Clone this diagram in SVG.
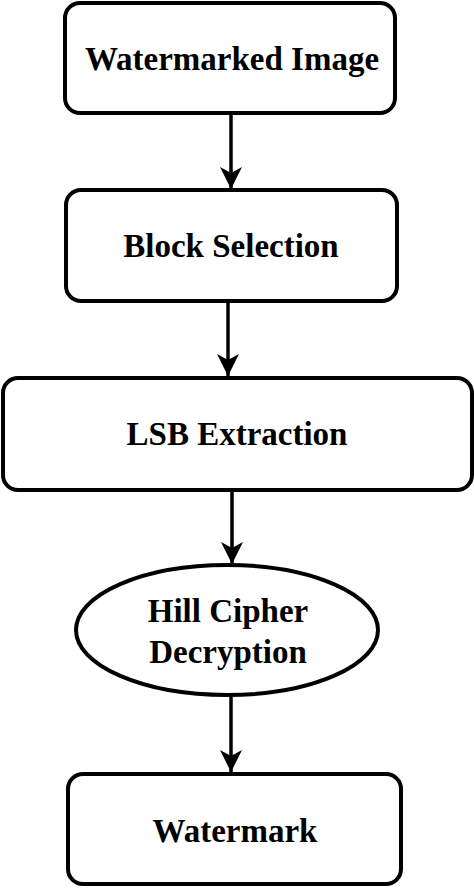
<svg xmlns="http://www.w3.org/2000/svg" width="474" height="888" viewBox="0 0 474 888">
<defs>
<style>
.box{fill:#fff;stroke:#000;stroke-width:4}
.lbl{font-family:"Liberation Serif","Times New Roman","DejaVu Serif",serif;font-weight:bold;font-size:33px;fill:#000;text-anchor:middle}
.conn{stroke:#000;stroke-width:3.5;fill:none}
</style>
<marker id="ah" markerUnits="userSpaceOnUse" markerWidth="24" markerHeight="24" viewBox="0 0 24 24" refX="22" refY="12" orient="auto">
<path d="M0,1 L22,12 L0,23 L6,12 Z" fill="#000"/>
</marker>
</defs>
<rect width="474" height="888" fill="#fff"/>
<g id="connectors">
<line class="conn" x1="231" y1="114" x2="231" y2="189" marker-end="url(#ah)"/>
<line class="conn" x1="228" y1="302" x2="228" y2="376" marker-end="url(#ah)"/>
<line class="conn" x1="232" y1="491" x2="232" y2="564" marker-end="url(#ah)"/>
<line class="conn" x1="231" y1="695" x2="231" y2="772" marker-end="url(#ah)"/>
</g>
<g id="node-watermarked-image">
<rect class="box" x="65" y="3" width="330" height="110" rx="15"/>
<text class="lbl" x="232" y="70" font-family="Liberation Serif, serif">Watermarked Image</text>
</g>
<g id="node-block-selection">
<rect class="box" x="66" y="190" width="331" height="111" rx="15"/>
<text class="lbl" x="231" y="257">Block Selection</text>
</g>
<g id="node-lsb-extraction">
<rect class="box" x="3" y="378" width="469" height="112" rx="15"/>
<text class="lbl" x="237" y="445">LSB Extraction</text>
</g>
<g id="node-hill-cipher">
<ellipse class="box" cx="227" cy="630" rx="151" ry="65"/>
<text class="lbl" x="228" y="622">Hill Cipher</text>
<text class="lbl" x="228" y="663">Decryption</text>
</g>
<g id="node-watermark">
<rect class="box" x="68" y="774" width="333" height="110" rx="15"/>
<text class="lbl" x="235" y="842">Watermark</text>
</g>
</svg>
